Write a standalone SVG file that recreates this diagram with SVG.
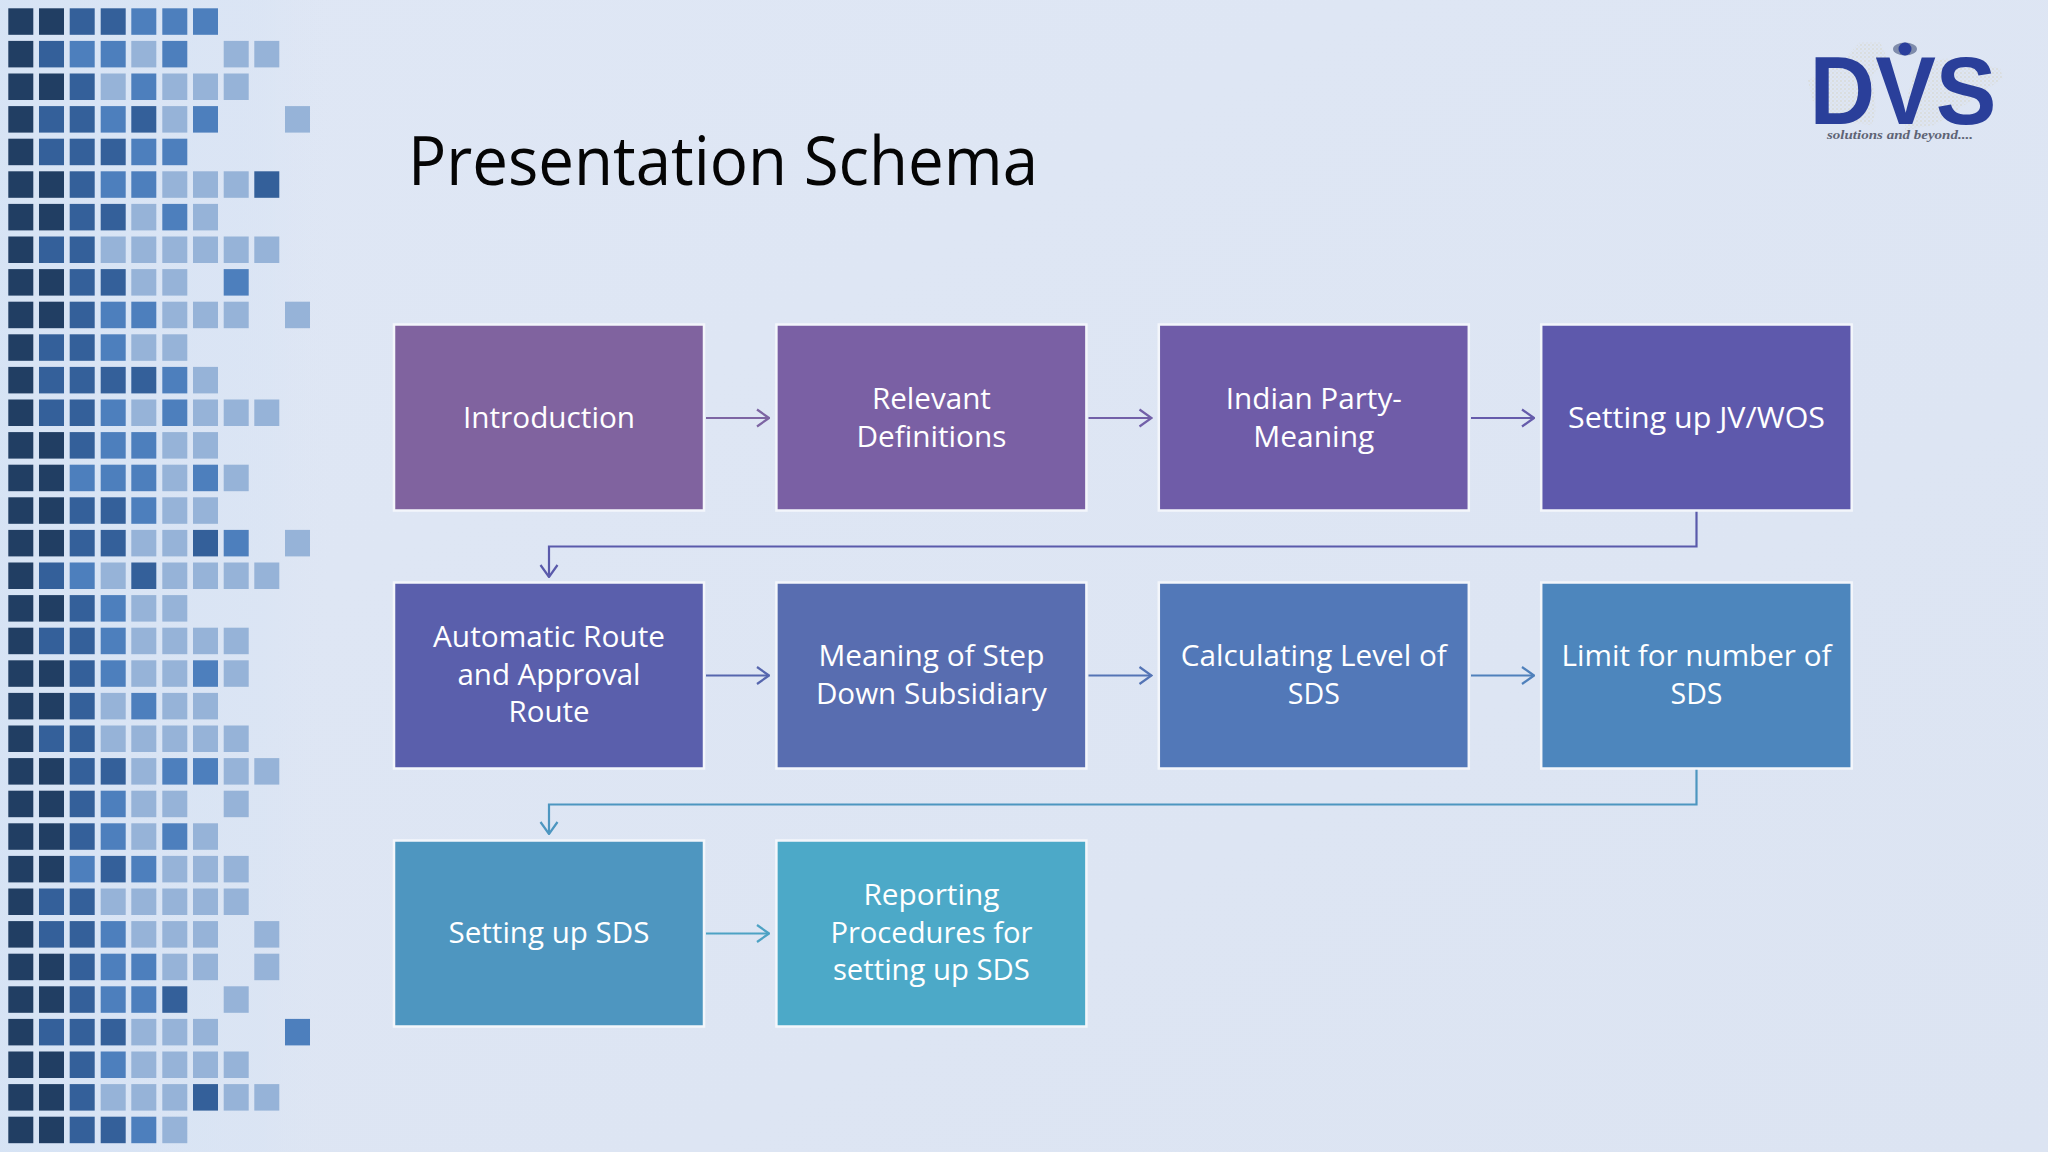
<svg xmlns="http://www.w3.org/2000/svg" width="2048" height="1152" viewBox="0 0 2048 1152">
<style>
#grid rect{width:25px;height:26.5px}
.d{fill:#213e63}.m{fill:#34609a}.b{fill:#4d7fbd}.l{fill:#96b3d8}
.box{stroke:#f3f6fb;stroke-width:2.5}
.t{font-family:"Open Sans","Noto Sans",sans-serif;font-size:30px;fill:#fff;text-anchor:middle;transform:translateY(-1.2px)}
.c{fill:none;stroke-width:2.2}
</style>
<defs>
<linearGradient id="bg" x1="0" y1="0" x2="1" y2="1"><stop offset="0" stop-color="#dfe7f5"/><stop offset="1" stop-color="#dce4f2"/></linearGradient>
<linearGradient id="glow" x1="0" y1="0" x2="1" y2="0"><stop offset="0" stop-color="#d3e2f5" stop-opacity="0.7"/><stop offset="0.8" stop-color="#d9e4f4" stop-opacity="0.6"/><stop offset="1" stop-color="#dde5f3" stop-opacity="0"/></linearGradient>
<pattern id="dots" width="4" height="4" patternUnits="userSpaceOnUse"><circle cx="1" cy="1" r="0.9" fill="#d6d2bf"/><circle cx="3" cy="3" r="0.7" fill="#d9d6c8"/></pattern>
<marker id="h" viewBox="0 0 16 20" refX="15" refY="10" markerWidth="16" markerHeight="20" markerUnits="userSpaceOnUse" orient="auto"><path d="M3 1.5L15 10L3 18.5" fill="none" stroke="context-stroke" stroke-width="2.2"/></marker>
</defs>
<rect width="2048" height="1152" fill="url(#bg)"/>
<rect width="330" height="1152" fill="url(#glow)"/>
<g id="grid">
<g transform="translate(0,8.3)"><rect class="d" x="8.3"/><rect class="d" x="39"/><rect class="m" x="69.7"/><rect class="m" x="100.7"/><rect class="b" x="131.3"/><rect class="b" x="162.3"/><rect class="b" x="193"/></g>
<g transform="translate(0,40.9)"><rect class="d" x="8.3"/><rect class="m" x="39"/><rect class="b" x="69.7"/><rect class="b" x="100.7"/><rect class="l" x="131.3"/><rect class="b" x="162.3"/><rect class="l" x="223.7"/><rect class="l" x="254.3"/></g>
<g transform="translate(0,73.5)"><rect class="d" x="8.3"/><rect class="d" x="39"/><rect class="m" x="69.7"/><rect class="l" x="100.7"/><rect class="b" x="131.3"/><rect class="l" x="162.3"/><rect class="l" x="193"/><rect class="l" x="223.7"/></g>
<g transform="translate(0,106.1)"><rect class="d" x="8.3"/><rect class="m" x="39"/><rect class="m" x="69.7"/><rect class="b" x="100.7"/><rect class="m" x="131.3"/><rect class="l" x="162.3"/><rect class="b" x="193"/><rect class="l" x="285"/></g>
<g transform="translate(0,138.7)"><rect class="d" x="8.3"/><rect class="m" x="39"/><rect class="m" x="69.7"/><rect class="m" x="100.7"/><rect class="b" x="131.3"/><rect class="b" x="162.3"/></g>
<g transform="translate(0,171.3)"><rect class="d" x="8.3"/><rect class="d" x="39"/><rect class="m" x="69.7"/><rect class="b" x="100.7"/><rect class="b" x="131.3"/><rect class="l" x="162.3"/><rect class="l" x="193"/><rect class="l" x="223.7"/><rect class="m" x="254.3"/></g>
<g transform="translate(0,203.9)"><rect class="d" x="8.3"/><rect class="d" x="39"/><rect class="m" x="69.7"/><rect class="m" x="100.7"/><rect class="l" x="131.3"/><rect class="b" x="162.3"/><rect class="l" x="193"/></g>
<g transform="translate(0,236.5)"><rect class="d" x="8.3"/><rect class="m" x="39"/><rect class="m" x="69.7"/><rect class="l" x="100.7"/><rect class="l" x="131.3"/><rect class="l" x="162.3"/><rect class="l" x="193"/><rect class="l" x="223.7"/><rect class="l" x="254.3"/></g>
<g transform="translate(0,269.1)"><rect class="d" x="8.3"/><rect class="d" x="39"/><rect class="m" x="69.7"/><rect class="m" x="100.7"/><rect class="l" x="131.3"/><rect class="l" x="162.3"/><rect class="b" x="223.7"/></g>
<g transform="translate(0,301.7)"><rect class="d" x="8.3"/><rect class="d" x="39"/><rect class="m" x="69.7"/><rect class="b" x="100.7"/><rect class="b" x="131.3"/><rect class="l" x="162.3"/><rect class="l" x="193"/><rect class="l" x="223.7"/><rect class="l" x="285"/></g>
<g transform="translate(0,334.3)"><rect class="d" x="8.3"/><rect class="m" x="39"/><rect class="m" x="69.7"/><rect class="b" x="100.7"/><rect class="l" x="131.3"/><rect class="l" x="162.3"/></g>
<g transform="translate(0,366.9)"><rect class="d" x="8.3"/><rect class="m" x="39"/><rect class="m" x="69.7"/><rect class="m" x="100.7"/><rect class="m" x="131.3"/><rect class="b" x="162.3"/><rect class="l" x="193"/></g>
<g transform="translate(0,399.5)"><rect class="d" x="8.3"/><rect class="m" x="39"/><rect class="m" x="69.7"/><rect class="b" x="100.7"/><rect class="l" x="131.3"/><rect class="b" x="162.3"/><rect class="l" x="193"/><rect class="l" x="223.7"/><rect class="l" x="254.3"/></g>
<g transform="translate(0,432.1)"><rect class="d" x="8.3"/><rect class="d" x="39"/><rect class="m" x="69.7"/><rect class="b" x="100.7"/><rect class="b" x="131.3"/><rect class="l" x="162.3"/><rect class="l" x="193"/></g>
<g transform="translate(0,464.7)"><rect class="d" x="8.3"/><rect class="d" x="39"/><rect class="b" x="69.7"/><rect class="b" x="100.7"/><rect class="b" x="131.3"/><rect class="l" x="162.3"/><rect class="b" x="193"/><rect class="l" x="223.7"/></g>
<g transform="translate(0,497.3)"><rect class="d" x="8.3"/><rect class="d" x="39"/><rect class="m" x="69.7"/><rect class="m" x="100.7"/><rect class="b" x="131.3"/><rect class="l" x="162.3"/><rect class="l" x="193"/></g>
<g transform="translate(0,529.9)"><rect class="d" x="8.3"/><rect class="d" x="39"/><rect class="m" x="69.7"/><rect class="m" x="100.7"/><rect class="l" x="131.3"/><rect class="l" x="162.3"/><rect class="m" x="193"/><rect class="b" x="223.7"/><rect class="l" x="285"/></g>
<g transform="translate(0,562.5)"><rect class="d" x="8.3"/><rect class="m" x="39"/><rect class="b" x="69.7"/><rect class="l" x="100.7"/><rect class="m" x="131.3"/><rect class="l" x="162.3"/><rect class="l" x="193"/><rect class="l" x="223.7"/><rect class="l" x="254.3"/></g>
<g transform="translate(0,595.1)"><rect class="d" x="8.3"/><rect class="d" x="39"/><rect class="m" x="69.7"/><rect class="b" x="100.7"/><rect class="l" x="131.3"/><rect class="l" x="162.3"/></g>
<g transform="translate(0,627.7)"><rect class="d" x="8.3"/><rect class="m" x="39"/><rect class="m" x="69.7"/><rect class="b" x="100.7"/><rect class="l" x="131.3"/><rect class="l" x="162.3"/><rect class="l" x="193"/><rect class="l" x="223.7"/></g>
<g transform="translate(0,660.3)"><rect class="d" x="8.3"/><rect class="d" x="39"/><rect class="m" x="69.7"/><rect class="b" x="100.7"/><rect class="l" x="131.3"/><rect class="l" x="162.3"/><rect class="b" x="193"/><rect class="l" x="223.7"/></g>
<g transform="translate(0,692.9)"><rect class="d" x="8.3"/><rect class="d" x="39"/><rect class="m" x="69.7"/><rect class="l" x="100.7"/><rect class="b" x="131.3"/><rect class="l" x="162.3"/><rect class="l" x="193"/></g>
<g transform="translate(0,725.5)"><rect class="d" x="8.3"/><rect class="m" x="39"/><rect class="m" x="69.7"/><rect class="l" x="100.7"/><rect class="l" x="131.3"/><rect class="l" x="162.3"/><rect class="l" x="193"/><rect class="l" x="223.7"/></g>
<g transform="translate(0,758.1)"><rect class="d" x="8.3"/><rect class="d" x="39"/><rect class="m" x="69.7"/><rect class="m" x="100.7"/><rect class="l" x="131.3"/><rect class="b" x="162.3"/><rect class="b" x="193"/><rect class="l" x="223.7"/><rect class="l" x="254.3"/></g>
<g transform="translate(0,790.7)"><rect class="d" x="8.3"/><rect class="d" x="39"/><rect class="m" x="69.7"/><rect class="b" x="100.7"/><rect class="l" x="131.3"/><rect class="l" x="162.3"/><rect class="l" x="223.7"/></g>
<g transform="translate(0,823.3)"><rect class="d" x="8.3"/><rect class="d" x="39"/><rect class="m" x="69.7"/><rect class="b" x="100.7"/><rect class="l" x="131.3"/><rect class="b" x="162.3"/><rect class="l" x="193"/></g>
<g transform="translate(0,855.9)"><rect class="d" x="8.3"/><rect class="d" x="39"/><rect class="b" x="69.7"/><rect class="m" x="100.7"/><rect class="b" x="131.3"/><rect class="l" x="162.3"/><rect class="l" x="193"/><rect class="l" x="223.7"/></g>
<g transform="translate(0,888.5)"><rect class="d" x="8.3"/><rect class="m" x="39"/><rect class="m" x="69.7"/><rect class="l" x="100.7"/><rect class="l" x="131.3"/><rect class="l" x="162.3"/><rect class="l" x="193"/><rect class="l" x="223.7"/></g>
<g transform="translate(0,921.1)"><rect class="d" x="8.3"/><rect class="m" x="39"/><rect class="m" x="69.7"/><rect class="b" x="100.7"/><rect class="l" x="131.3"/><rect class="l" x="162.3"/><rect class="l" x="193"/><rect class="l" x="254.3"/></g>
<g transform="translate(0,953.7)"><rect class="d" x="8.3"/><rect class="d" x="39"/><rect class="m" x="69.7"/><rect class="b" x="100.7"/><rect class="b" x="131.3"/><rect class="l" x="162.3"/><rect class="l" x="193"/><rect class="l" x="254.3"/></g>
<g transform="translate(0,986.3)"><rect class="d" x="8.3"/><rect class="d" x="39"/><rect class="m" x="69.7"/><rect class="b" x="100.7"/><rect class="b" x="131.3"/><rect class="m" x="162.3"/><rect class="l" x="223.7"/></g>
<g transform="translate(0,1018.9)"><rect class="d" x="8.3"/><rect class="m" x="39"/><rect class="m" x="69.7"/><rect class="m" x="100.7"/><rect class="l" x="131.3"/><rect class="l" x="162.3"/><rect class="l" x="193"/><rect class="b" x="285"/></g>
<g transform="translate(0,1051.5)"><rect class="d" x="8.3"/><rect class="d" x="39"/><rect class="m" x="69.7"/><rect class="b" x="100.7"/><rect class="l" x="131.3"/><rect class="l" x="162.3"/><rect class="l" x="193"/><rect class="l" x="223.7"/></g>
<g transform="translate(0,1084.1)"><rect class="d" x="8.3"/><rect class="d" x="39"/><rect class="m" x="69.7"/><rect class="l" x="100.7"/><rect class="l" x="131.3"/><rect class="l" x="162.3"/><rect class="m" x="193"/><rect class="l" x="223.7"/><rect class="l" x="254.3"/></g>
<g transform="translate(0,1116.7)"><rect class="d" x="8.3"/><rect class="d" x="39"/><rect class="m" x="69.7"/><rect class="m" x="100.7"/><rect class="b" x="131.3"/><rect class="l" x="162.3"/></g>
</g>
<g id="logo">
<path d="M1808 80L1838 66L1860 42L1880 42L1888 60L1872 75L1876 110L1872 125L1840 122L1812 100Z" fill="url(#dots)" opacity="0.6"/>
<path d="M1915 70L1945 58L2000 68L2003 78L1972 100L1935 125L1905 130L1908 95Z" fill="url(#dots)" opacity="0.6"/>
<ellipse cx="1905" cy="49" rx="12" ry="6.5" fill="#7f8cab"/>
<circle cx="1905" cy="49" r="6.5" fill="#2b3f9c"/>
<text x="1903" y="124" font-family="'Liberation Sans',Arial,sans-serif" font-weight="700" font-size="96" fill="#2a3f9a" text-anchor="middle" textLength="187" lengthAdjust="spacingAndGlyphs">DVS</text>
<text x="1827" y="139" font-family="'Liberation Serif',serif" font-style="italic" font-weight="700" font-size="13" fill="#5f6475" textLength="146" lengthAdjust="spacingAndGlyphs">solutions and beyond....</text>
</g>
<text id="title" x="408" y="185" font-family="'Open Sans','Noto Sans',sans-serif" font-size="68" fill="#050505" textLength="630" lengthAdjust="spacingAndGlyphs">Presentation Schema</text>
<g id="connectors">
<path class="c" d="M706 418H769" stroke="#7d65a3" marker-end="url(#h)"/>
<path class="c" d="M1088.5 418H1151.500" stroke="#7260a8" marker-end="url(#h)"/>
<path class="c" d="M1471 418H1534" stroke="#655bab" marker-end="url(#h)"/>
<path class="c" d="M1696.500 511V546.500H549V577" stroke="#5a5aab" marker-end="url(#h)"/>
<path class="c" d="M706 675.500H769" stroke="#5666ae" marker-end="url(#h)"/>
<path class="c" d="M1088.5 675.500H1151.500" stroke="#5474b5" marker-end="url(#h)"/>
<path class="c" d="M1471 675.500H1534" stroke="#4f80bb" marker-end="url(#h)"/>
<path class="c" d="M1696.500 769V804.500H549V834" stroke="#4d96c0" marker-end="url(#h)"/>
<path class="c" d="M706 933.500H769" stroke="#4da2c4" marker-end="url(#h)"/>
</g>
<g id="n1"><rect class="box" x="394" y="324.500" width="310" height="186" fill="#80639f"/><text class="t" x="549" y="429" textLength="172" lengthAdjust="spacingAndGlyphs">Introduction</text></g>
<g id="n2"><rect class="box" x="776.400" y="324.500" width="310" height="186" fill="#7a60a4"/><text class="t" x="931.400" y="410" textLength="119" lengthAdjust="spacingAndGlyphs">Relevant</text><text class="t" x="931.400" y="448" textLength="150" lengthAdjust="spacingAndGlyphs">Definitions</text></g>
<g id="n3"><rect class="box" x="1158.800" y="324.500" width="310" height="186" fill="#6f5ca8"/><text class="t" x="1313.800" y="410" textLength="176" lengthAdjust="spacingAndGlyphs">Indian Party-</text><text class="t" x="1313.800" y="448" textLength="121" lengthAdjust="spacingAndGlyphs">Meaning</text></g>
<g id="n4"><rect class="box" x="1541.200" y="324.500" width="310.500" height="186" fill="#5e59ac"/><text class="t" x="1696.500" y="429" textLength="257" lengthAdjust="spacingAndGlyphs">Setting up JV/WOS</text></g>
<g id="n5"><rect class="box" x="394" y="582.500" width="310" height="186" fill="#5a5fac"/><text class="t" x="549" y="648.500" textLength="232" lengthAdjust="spacingAndGlyphs">Automatic Route</text><text class="t" x="549" y="686" textLength="183" lengthAdjust="spacingAndGlyphs">and Approval</text><text class="t" x="549" y="723.500" textLength="81" lengthAdjust="spacingAndGlyphs">Route</text></g>
<g id="n6"><rect class="box" x="776.400" y="582.500" width="310" height="186" fill="#586db0"/><text class="t" x="931.400" y="667.500" textLength="226" lengthAdjust="spacingAndGlyphs">Meaning of Step</text><text class="t" x="931.400" y="705" textLength="231" lengthAdjust="spacingAndGlyphs">Down Subsidiary</text></g>
<g id="n7"><rect class="box" x="1158.800" y="582.500" width="310" height="186" fill="#5278b8"/><text class="t" x="1313.800" y="667.500" textLength="266" lengthAdjust="spacingAndGlyphs">Calculating Level of</text><text class="t" x="1313.800" y="705" textLength="52" lengthAdjust="spacingAndGlyphs">SDS</text></g>
<g id="n8"><rect class="box" x="1541.200" y="582.500" width="310.500" height="186" fill="#4d86bd"/><text class="t" x="1696.500" y="667.500" textLength="270" lengthAdjust="spacingAndGlyphs">Limit for number of</text><text class="t" x="1696.500" y="705" textLength="52" lengthAdjust="spacingAndGlyphs">SDS</text></g>
<g id="n9"><rect class="box" x="394" y="840.500" width="310" height="186" fill="#4e96c0"/><text class="t" x="549" y="944" textLength="201" lengthAdjust="spacingAndGlyphs">Setting up SDS</text></g>
<g id="n10"><rect class="box" x="776.400" y="840.500" width="310" height="186" fill="#4ca9c8"/><text class="t" x="931.400" y="906.500" textLength="136" lengthAdjust="spacingAndGlyphs">Reporting</text><text class="t" x="931.400" y="944" textLength="202" lengthAdjust="spacingAndGlyphs">Procedures for</text><text class="t" x="931.400" y="981.500" textLength="197" lengthAdjust="spacingAndGlyphs">setting up SDS</text></g>
</svg>
